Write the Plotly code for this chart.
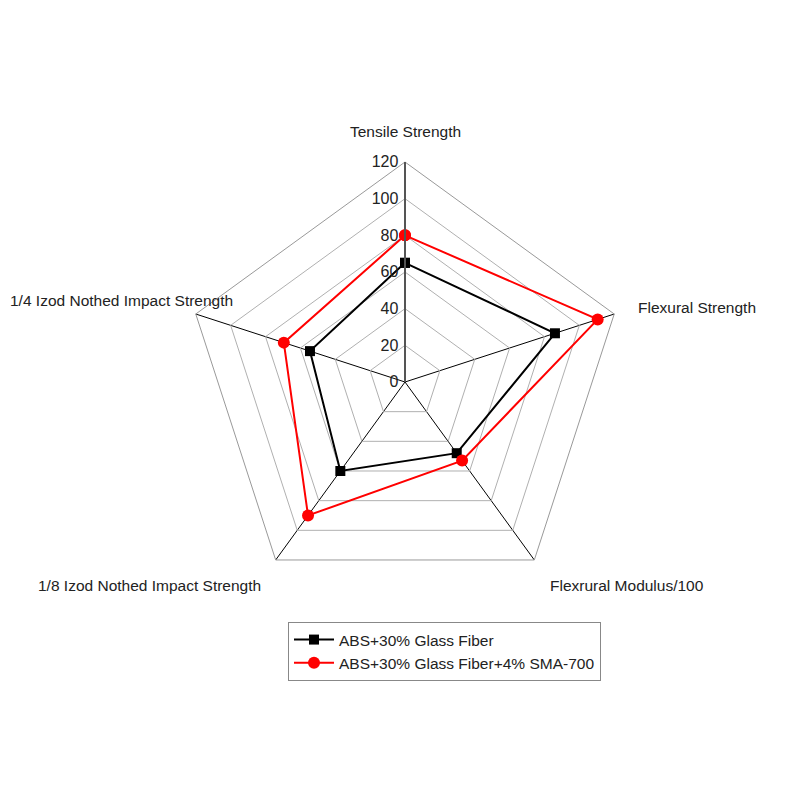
import plotly.graph_objects as go

categories = ["Tensile Strength", "Flexural Strength", "Flexrural Modulus/100",
              "1/8 Izod Nothed Impact Strength", "1/4 Izod Nothed Impact Strength"]
glass_fiber = [65, 86, 48, 60, 54.5]
glass_fiber_sma = [80, 110.5, 53, 90, 69.5]
radial_ticks = [0, 20, 40, 60, 80, 100, 120]

# where each category label sits (paper coords) - placed like the original layout
label_pos = [
    (0.49625, 0.84625, 'center'),
    (0.785, 0.62625, 'left'),
    (0.675, 0.27875, 'left'),
    (0.31875, 0.27875, 'right'),
    (0.28375, 0.635, 'right'),
]


def closed(vals):
    return vals + vals[:1]


fig = go.Figure()
fig.add_trace(go.Scatterpolar(
    r=closed(glass_fiber), theta=closed(categories),
    mode="lines+markers", name="ABS+30% Glass Fiber",
    line={'color': 'black', 'width': 2},
    marker={'symbol': 'square', 'size': 10, 'color': 'black'},
))
fig.add_trace(go.Scatterpolar(
    r=closed(glass_fiber_sma), theta=closed(categories),
    mode="lines+markers", name="ABS+30% Glass Fiber+4% SMA-700",
    line={'color': 'red', 'width': 2},
    marker={'symbol': 'circle', 'size': 12, 'color': 'red'},
))

for cat, (x, y, anchor) in zip(categories, label_pos):
    fig.add_annotation(
        text=cat, x=x, y=y, xref='paper', yref='paper',
        xanchor=anchor, yanchor='middle', showarrow=False,
        font={'size': 15.5},
    )

fig.update_layout(
    width=800, height=800,
    margin={'l': 0, 'r': 0, 't': 0, 'b': 0},
    paper_bgcolor='white',
    font={'family': 'Liberation Sans, Arial', 'color': '#222'},
    polar={
        'domain': {'x': [0.22125, 0.77125], 'y': [0.2575, 0.8075]},
        'gridshape': 'linear',
        'bgcolor': 'white',
        'radialaxis': {
            'range': [0, 120], 'tickvals': radial_ticks,
            'angle': 90, 'side': 'counterclockwise',
            'tickangle': 90,
            'showline': True, 'linecolor': '#555', 'linewidth': 2,
            'gridcolor': '#b0b0b0', 'gridwidth': 1,
            'ticks': '', 'tickfont': {'size': 16},
        },
        'angularaxis': {
            'direction': 'clockwise', 'rotation': 90,
            'showline': True, 'linecolor': '#999', 'linewidth': 1,
            'gridcolor': 'black', 'gridwidth': 1,
            'ticks': '', 'showticklabels': False,
        },
    },
    legend={
        'x': 0.35, 'y': 0.2325, 'xanchor': 'left', 'yanchor': 'top',
        'bordercolor': '#888', 'borderwidth': 1,
        'font': {'size': 15.5}, 'tracegroupgap': 0, 'itemwidth': 40,
    },
)

fig.write_html("out.html")
